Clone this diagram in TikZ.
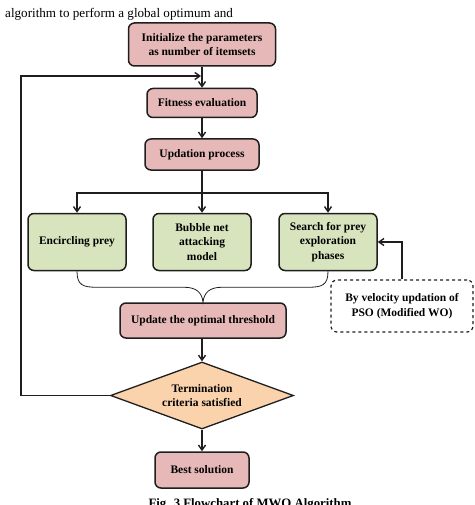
\documentclass[tikz,border=0pt]{standalone}
\usepackage{fontspec}
\setmainfont{Liberation Serif}
\usetikzlibrary{arrows.meta,shapes.geometric,calc}
\definecolor{pinkf}{HTML}{E6B9B8}
\definecolor{greenf}{HTML}{D7E4BD}
\definecolor{peachf}{HTML}{FAD2AC}
\definecolor{edge}{HTML}{1E1E1E}
\begin{document}
\begin{tikzpicture}[x=1pt,y=-1pt,
  box/.style={draw=edge,line width=1.5pt,rounded corners=6pt,align=center,
    font=\bfseries\fontsize{11.5}{14.5}\selectfont,inner sep=1pt},
  pinkbox/.style={box,fill=pinkf},
  greenbox/.style={box,fill=greenf},
  dashbox/.style={draw=edge,line width=1.2pt,dashed,rounded corners=6pt,align=center,
    font=\bfseries\fontsize{11.5}{14.5}\selectfont,fill=white,inner sep=1pt},
  dec/.style={diamond,aspect=2.73,draw=edge,line width=1.3pt,fill=peachf,align=center,inner sep=0pt,
    font=\bfseries\fontsize{11.5}{14.5}\selectfont},
  arr/.style={draw=edge,line width=1.4pt,-{Straight Barb[length=5pt,width=7pt]}},
  ln/.style={draw=edge,line width=1.4pt},
  brace/.style={draw=edge,line width=0.8pt}]
\useasboundingbox (0,0) rectangle (474,505);
\node[anchor=base west,font=\fontsize{13.1}{15}\selectfont,inner sep=0pt] (toptext) at (5,18) {algorithm to perform a global optimum and};
\node[pinkbox,minimum width=147pt,minimum height=43pt] (init) at (202,44.5) {Initialize the parameters\\as number of itemsets};
\node[pinkbox,minimum width=110pt,minimum height=29pt] (fit) at (202,103) {Fitness evaluation};
\node[pinkbox,minimum width=114pt,minimum height=31pt] (upd) at (202,154.5) {Updation process};
\node[greenbox,minimum width=98pt,minimum height=57pt] (enc) at (77,242) {Encircling prey};
\node[greenbox,minimum width=98pt,minimum height=57pt] (bub) at (202,242) {Bubble net\\attacking\\model};
\node[greenbox,minimum width=98pt,minimum height=57pt] (sea) at (328,242) {Search for prey\\exploration\\phases};
\node[dashbox,minimum width=142pt,minimum height=52pt] (pso) at (402,306) {By velocity updation of\\PSO (Modified WO)};
\node[pinkbox,minimum width=166pt,minimum height=35pt] (thr) at (203,320.5) {Update the optimal threshold};
\node[dec,minimum width=183pt,minimum height=67pt] (dia) at (202,395.5) {Termination\\criteria satisfied};
\node[pinkbox,minimum width=94pt,minimum height=36pt] (best) at (202,470) {Best solution};
\node[anchor=north,font=\bfseries\fontsize{12.8}{14}\selectfont,inner sep=0pt] (cap) at (250,498.5) {Fig. 3 Flowchart of MWO Algorithm};
% connectors
\coordinate (lpin) at (202,76);
\coordinate (lpc) at (21,76);
\coordinate (jn) at (202,193);
\draw[arr] (init.south) -- (fit.north);
\draw[arr] (dia.west) -| (lpc) -- ($(lpin)+(-1,0)$);
\draw[arr] (fit.south) -- (upd.north);
\draw[ln] (upd.south) -- (jn);
\draw[arr] (jn) -- (bub.north);
\draw[arr] (jn) -| (enc.north);
\draw[arr] (jn) -| (sea.north);
\draw[arr] (pso.north) |- (sea.east);
\draw[brace] (enc.south) .. controls ($(enc.south)+(0,14)$) and ($(enc.south)+(6,16)$) .. ($(enc.south)+(20,16)$)
  -- ($(thr.north)+(-19,-15)$) .. controls ($(thr.north)+(-7,-15)$) and ($(thr.north)+(-1,-10)$) .. (thr.north)
  .. controls ($(thr.north)+(1,-10)$) and ($(thr.north)+(7,-15)$) .. ($(thr.north)+(19,-15)$)
  -- ($(sea.south)+(-20,16)$) .. controls ($(sea.south)+(-6,16)$) and ($(sea.south)+(0,14)$) .. (sea.south);
\draw[arr] (thr.south -| dia.north) -- (dia.north);
\draw[arr] (dia.south) -- (best.north);
\end{tikzpicture}
\end{document}
